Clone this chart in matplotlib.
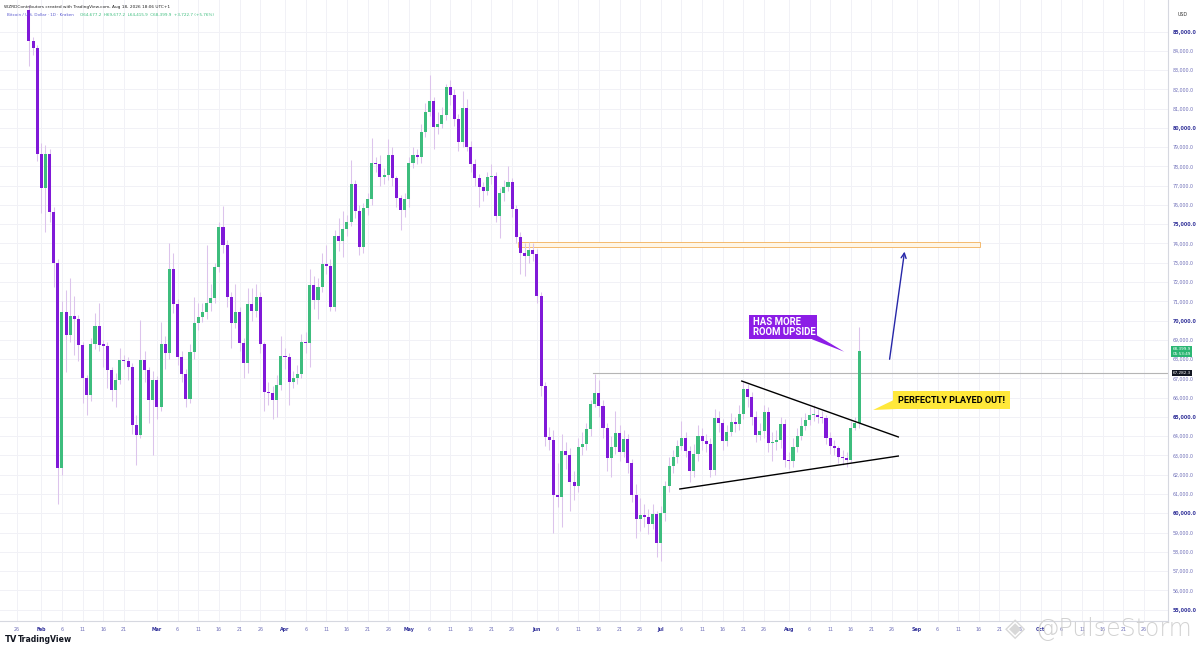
import matplotlib
matplotlib.use("Agg")
import matplotlib.pyplot as plt
import matplotlib.dates as mdates
import matplotlib.transforms as mtransforms
from matplotlib.patches import Rectangle, Polygon
import numpy as np
import pandas as pd

# daily BTC/USD candles (Kraken), last one is Aug 18
last_day = "2026-08-18"
first_open = 86100.0
closes = [
    84500, 84130, 78640, 76860, 78640, 75650, 72970, 62330, 70460, 69250,
    70240, 70070, 68730, 67000, 66140, 68770, 69720, 68730, 68700, 67430,
    66400, 66920, 67950, 67900, 67600, 64580, 64060, 67950, 67430, 65900,
    66920, 65500, 68770, 68300, 72660, 70860, 68090, 67230, 65930, 68380,
    69890, 70170, 70430, 70900, 71190, 72760, 74840, 73920, 71240, 69890,
    70460, 68850, 67810, 70860, 70490, 71240, 68770, 66310, 66230, 65900,
    66650, 68160, 68100, 66830, 67000, 67230, 68900, 68820, 71850, 71070,
    71760, 72920, 72850, 70720, 74390, 74150, 74740, 75110, 77090, 75700,
    73800, 75830, 76290, 78160, 78100, 77430, 77560, 78590, 77380, 76340,
    75740, 76290, 78160, 78590, 78500, 79800, 80840, 81390, 80030, 80200,
    80670, 82140, 81700, 80440, 79280, 81010, 79020, 78110, 77380, 76920,
    76740, 77430, 77520, 75420, 76600, 76950, 77210, 75790, 74320, 73490,
    73350, 73660, 73450, 71270, 66600, 63970, 63800, 60950, 60830, 63250,
    63020, 61640, 61420, 63460, 63600, 64360, 65650, 66220, 65560, 64410,
    62850, 63420, 64180, 63190, 63840, 62630, 60950, 59690, 59910, 59800,
    59440, 59960, 58480, 60000, 61420, 62450, 62930, 63490, 63920, 63250,
    62210, 63070, 64010, 63760, 63620, 62240, 64930, 64670, 63770, 64230,
    64720, 64640, 65150, 66430, 66050, 65010, 64060, 64270, 65270, 63660,
    63720, 63800, 64610, 62760, 62700, 63450, 64010, 64530, 64840, 65100,
    65120, 65000, 64950, 63900, 63490, 63370, 62930, 62850, 62760, 64410,
    64677.2, 68399.9,
]
highs = [
    86400, 84700, 84300, 79200, 79100, 78900, 75900, 73200, 71000, 71600,
    72200, 71300, 70300, 68900, 67200, 69100, 70400, 70900, 69000, 68900,
    67600, 67300, 68600, 68200, 68100, 67800, 65100, 70030, 68400, 67600,
    67400, 67100, 69900, 69200, 74010, 73500, 71100, 68400, 67500, 68800,
    71200, 70900, 70900, 73920, 71900, 73000, 75100, 75940, 74200, 71500,
    71900, 70700, 69100, 71700, 71700, 71900, 71500, 68900, 66800, 66600,
    67200, 69200, 68600, 68300, 67400, 67700, 69300, 69400, 72700, 72300,
    72200, 73500, 73900, 73200, 74700, 75300, 75700, 75500, 78330, 77300,
    76000, 76100, 76600, 79470, 78500, 78600, 77900, 79400, 79000, 77500,
    76500, 76600, 78500, 79000, 78900, 80200, 81300, 82720, 81600, 80800,
    81100, 82300, 82500, 82000, 80700, 81900, 81500, 79300, 78400, 77600,
    77200, 77700, 78100, 77700, 76900, 77300, 78000, 77400, 76000, 74600,
    74000, 74100, 74000, 73700, 71500, 66800, 64500, 64300, 62600, 64100,
    63700, 63400, 62200, 63900, 64200, 64700, 65900, 67250, 66900, 65900,
    64700, 64000, 65300, 64600, 64300, 64100, 62800, 61500, 60800, 60500,
    60200, 60500, 60100, 60400, 61700, 62900, 63300, 63800, 64800, 64200,
    63500, 63600, 64600, 64400, 64100, 63900, 65400, 65300, 64900, 64600,
    65200, 65000, 65600, 66800, 66700, 66300, 65300, 64700, 65600, 65500,
    64200, 64300, 65000, 64900, 63200, 63900, 64400, 65000, 65200, 65500,
    65600, 65400, 65300, 65100, 64200, 63800, 63500, 63300, 63200, 64800,
    65000, 69677.2,
]
lows = [
    83200, 83800, 78300, 75600, 74600, 75100, 71750, 60500, 62000, 67350,
    68900, 68200, 67900, 65720, 65100, 65800, 68500, 68400, 67600, 66500,
    65800, 65500, 66700, 67500, 66900, 64100, 62500, 63900, 66800, 64700,
    63000, 64900, 65300, 67500, 68000, 70400, 67700, 66800, 65500, 65700,
    68000, 69500, 69900, 70100, 70500, 70900, 72500, 73500, 70700, 68600,
    69600, 68400, 67000, 67300, 70000, 70200, 68300, 65300, 65600, 64900,
    65000, 66400, 67500, 65600, 66500, 66700, 67000, 68300, 67600, 70600,
    70100, 71500, 72400, 70500, 70500, 73600, 73300, 74400, 74900, 75300,
    73400, 73500, 75500, 76000, 77700, 77000, 77100, 77300, 77000, 75900,
    74700, 75400, 75900, 77900, 78100, 78200, 79500, 80600, 78900, 79700,
    80000, 80400, 81200, 80100, 78800, 79000, 78800, 77700, 77000, 75900,
    76200, 76500, 77100, 75100, 74300, 76200, 76700, 75400, 74000, 72400,
    72300, 73000, 73100, 70900, 66100, 63500, 63300, 58950, 60300, 59300,
    62300, 60100, 60700, 61100, 63000, 63300, 64000, 65500, 65000, 63900,
    62200, 61900, 63100, 62700, 62900, 62100, 60600, 58700, 59100, 59300,
    58900, 59200, 57750, 57500, 59600, 61100, 62100, 62600, 63300, 62900,
    61600, 61900, 62700, 63300, 63200, 61900, 62000, 64200, 63300, 63500,
    64000, 64200, 64300, 64900, 65500, 64600, 63700, 63800, 63900, 63200,
    62700, 63300, 63400, 62400, 62300, 62400, 63200, 63800, 64300, 64600,
    64800, 64700, 64700, 63600, 63100, 63000, 62600, 62500, 62400, 62600,
    64300, 64415.9,
]

# axis labels
price_ticks = list(range(55000, 86000, 1000))
tick_months = ["Feb", "Mar", "Apr", "May", "Jun", "Jul", "Aug", "Sep", "Oct"]
tick_days = [1, 6, 11, 16, 21, 26]

# drawings (day offset from Feb 1, price)
zone = (115.4, 227.3, 73820, 74080)
last_high_line = (133.7, 67282.3)
tri_upper = [(169.6, 66860), (207.5, 63960)]
tri_lower = [(154.6, 61260), (207.5, 62970)]
arrow_pts = [(205.3, 67850), (209.1, 73720)]
purple_box = (171.4, 187.8, 69027, 70288)
purple_tail = [(186.6, 69027), (187.8, 69230), (194.4, 68383)]
yellow_box = (206.2, 234.5, 65410, 66344)
yellow_tail = [(206.6, 65900), (207.2, 65410), (201.4, 65360)]

PURPLE = "#8019d8"
GREEN = "#3dbd7d"
WICK = "#dcc4ec"
LABEL = "#6f6fb8"
LABEL_BOLD = "#33339a"

W, H = 1200, 652
fig = plt.figure(figsize=(W / 100, H / 100), dpi=100)
fig.patch.set_facecolor("white")
ax = fig.add_axes([0, 1 - 621 / H, 1168 / W, 621 / H])

feb1 = mdates.date2num(pd.Timestamp("2026-02-01"))


def day(n):
    return feb1 + n


dates = pd.date_range(end=last_day, periods=len(closes), freq="D")
x = mdates.date2num(dates)
c = np.array(closes, dtype=float)
o = np.r_[first_open, c[:-1]]
hi = np.array(highs, dtype=float)
lo = np.array(lows, dtype=float)
up = c >= o

# grid
ax.set_xlim(day(-10), day(272.8))
ax.set_ylim(54409, 86635)

xt, xl, xbold = [day(-6)], ["26"], [False]
for m in tick_months:
    for dd in tick_days:
        if m == "Feb" and dd == 26:
            continue
        t = mdates.date2num(pd.Timestamp(f"2026-{m}-{dd:02d}"))
        xt.append(t)
        xl.append(m if dd == 1 else str(dd))
        xbold.append(dd == 1)
for t in xt:
    ax.axvline(t, color="#f1f1f6", lw=0.7, zorder=0)
for p in price_ticks:
    ax.axhline(p, color="#f1f1f6", lw=0.7, zorder=0)

# candles
ax.vlines(x, lo, hi, color=WICK, lw=0.75, zorder=2)
ax.bar(x, np.maximum(np.abs(c - o), 60), bottom=np.minimum(o, c), width=0.74,
       color=np.where(up, GREEN, PURPLE), linewidth=0, zorder=3)

# resistance zone
z0, z1, zlo, zhi = zone
ax.add_patch(Rectangle((day(z0), zlo), z1 - z0, zhi - zlo, facecolor="#fff6e6",
                       edgecolor="#f2b05a", lw=0.6, zorder=1))

# previous high line
ax.plot([day(last_high_line[0]), day(300)], [last_high_line[1]] * 2,
        color="#b5b5b5", lw=0.8, zorder=1)

# triangle
for seg in (tri_upper, tri_lower):
    ax.plot([day(seg[0][0]), day(seg[1][0])], [seg[0][1], seg[1][1]],
            color="black", lw=1.0, zorder=4)

# target arrow
ax.annotate("", xy=(day(arrow_pts[1][0]), arrow_pts[1][1]),
            xytext=(day(arrow_pts[0][0]), arrow_pts[0][1]),
            arrowprops=dict(arrowstyle="->", color="#2727a8", lw=1.0,
                            mutation_scale=9), zorder=5)

# callouts
b0, b1, blo, bhi = purple_box
ax.add_patch(Polygon([(day(a), b) for a, b in purple_tail], closed=True,
                     facecolor="#8c1de6", edgecolor="none", zorder=5))
ax.add_patch(Rectangle((day(b0), blo), b1 - b0, bhi - blo, facecolor="#8c1de6",
                       edgecolor="none", zorder=6))
ax.text(day(b0 + 0.8), (blo + bhi) / 2, "HAS MORE\nROOM UPSIDE", color="white",
        fontsize=6.9, fontweight="bold", family="Roboto", va="center",
        ha="left", linespacing=1.0, zorder=7)

y0, y1, ylo, yhi = yellow_box
ax.add_patch(Polygon([(day(a), b) for a, b in yellow_tail], closed=True,
                     facecolor="#ffe83a", edgecolor="none", zorder=5))
ax.add_patch(Rectangle((day(y0), ylo), y1 - y0, yhi - ylo, facecolor="#ffe83a",
                       edgecolor="none", zorder=6))
ax.text(day((y0 + y1) / 2), (ylo + yhi) / 2, "PERFECTLY PLAYED OUT!",
        color="black", fontsize=6.6, fontweight="bold", family="Roboto",
        va="center", ha="center", zorder=7)

# axes styling
for s in ("left", "top"):
    ax.spines[s].set_visible(False)
for s in ("right", "bottom"):
    ax.spines[s].set_color("#d6d8e0")
    ax.spines[s].set_linewidth(0.8)

ax.yaxis.tick_right()
ax.set_yticks(price_ticks)
ax.set_yticklabels([f"{p:,.1f}" for p in price_ticks])
ax.tick_params(axis="y", length=0, pad=3.5, labelsize=3.4)
for lab, p in zip(ax.get_yticklabels(), price_ticks):
    if p % 5000 == 0:
        lab.set_fontweight("bold")
        lab.set_color(LABEL_BOLD)
    else:
        lab.set_color(LABEL)

ax.set_xticks(xt)
ax.set_xticklabels(xl)
ax.tick_params(axis="x", length=0, pad=4, labelsize=3.4)
for lab, b in zip(ax.get_xticklabels(), xbold):
    lab.set_color(LABEL_BOLD if b else LABEL)
    if b:
        lab.set_fontweight("bold")

# price tags on the scale
trans = mtransforms.blended_transform_factory(ax.transAxes, ax.transData)
ax.text(1.004, closes[-1], f"{closes[-1]:,.1f}\n05:53:49", transform=trans,
        fontsize=3.0, color="white", va="center", ha="left", linespacing=1.1,
        bbox=dict(boxstyle="square,pad=0.3", fc="#2bb673", ec="none"),
        clip_on=False, zorder=8)
ax.text(1.004, last_high_line[1], f"{last_high_line[1]:,.1f}", transform=trans,
        fontsize=3.0, color="white", va="center", ha="left",
        bbox=dict(boxstyle="square,pad=0.25", fc="#131722", ec="none"),
        clip_on=False, zorder=8)


def px(xp, yp):
    return xp / W, 1 - yp / H


fig.text(*px(1183, 15), "USD", fontsize=3.4, color="#333333", ha="center",
         va="center")
fig.text(*px(4, 7), "WZRDContributors created with TradingView.com, "
         "Aug 18, 2026 18:06 UTC+1", fontsize=3.1, color="#222222",
         va="center")
fig.text(*px(7, 15.5), "Bitcoin / U.S. Dollar · 1D · Kraken", fontsize=3.0,
         color="#5b5bd0", va="center")
fig.text(*px(80, 15.5), "O64,677.2  H69,677.2  L64,415.9  C68,399.9  "
         "+3,722.7 (+5.76%)", fontsize=3.0, color=GREEN, va="center")

fig.text(*px(5, 640), "TV", fontsize=6, fontweight="heavy", color="#131722",
         va="center")
fig.text(*px(18, 640), "TradingView", fontsize=5.6, fontweight="bold",
         color="#131722", va="center")

# watermark
fig.text(*px(1005, 629), "◈", fontsize=19, color="#d8d8d8", va="center")
fig.text(*px(1036, 629), "@PulseStorm", fontsize=17, color="#d2d2d2",
         va="center", fontweight="light")

fig.savefig("out.png", dpi=100, facecolor="white")
